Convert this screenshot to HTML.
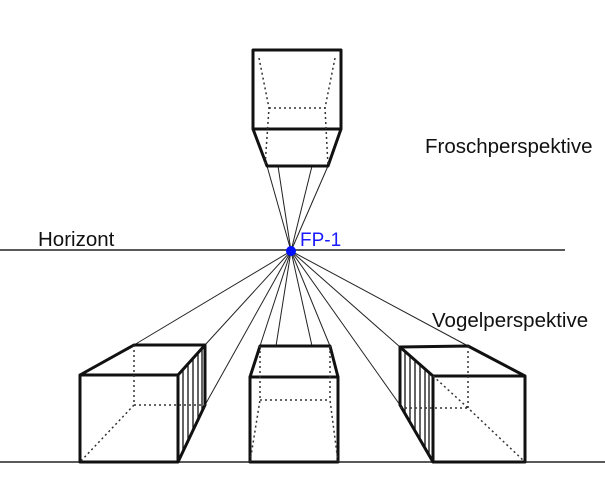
<!DOCTYPE html>
<html><head><style>
html,body{margin:0;padding:0;background:#fff;}
svg{display:block;}
text{font-family:"Liberation Sans",sans-serif;}
</style></head><body>
<svg width="605" height="500" viewBox="0 0 605 500" xmlns="http://www.w3.org/2000/svg">
<rect width="605" height="500" fill="#fff"/>
<line x1="0" y1="250" x2="565" y2="250" stroke="#222" stroke-width="1.5"/>
<line x1="0" y1="462" x2="605" y2="462" stroke="#222" stroke-width="1.5"/>
<g stroke="#222" stroke-width="1">
<line x1="291" y1="251" x2="267" y2="166"/>
<line x1="291" y1="251" x2="278" y2="166"/>
<line x1="291" y1="251" x2="312" y2="166"/>
<line x1="291" y1="251" x2="328" y2="166"/>
<line x1="291" y1="251" x2="134" y2="345"/>
<line x1="291" y1="251" x2="205" y2="345"/>
<line x1="291" y1="251" x2="205" y2="405"/>
<line x1="291" y1="251" x2="260" y2="346"/>
<line x1="291" y1="251" x2="330" y2="346"/>
<line x1="291" y1="251" x2="276" y2="346"/>
<line x1="291" y1="251" x2="312" y2="346"/>
<line x1="291" y1="251" x2="400" y2="347"/>
<line x1="291" y1="251" x2="468" y2="346"/>
<line x1="291" y1="251" x2="400" y2="405"/>
</g>
<g fill="none" stroke="#111" stroke-width="3" stroke-linejoin="round">
<rect x="253" y="50" width="88" height="79"/>
<polyline points="253,129 267,166 328,166 341,129"/>
<rect x="80" y="375" width="98" height="87"/>
<polyline points="80,375 134,345 205,345 178,375"/>
<polyline points="205,345 205,405 178,462"/>
<rect x="250" y="377" width="88" height="85"/>
<polyline points="250,377 260,346 330,346 338,377"/>
<rect x="433" y="376" width="92" height="86"/>
<polyline points="433,376 400,347 468,346 525,376"/>
<polyline points="400,347 400,405 433,462"/>
</g>
<g stroke="#111" stroke-width="1.3">
<line x1="183" y1="370" x2="183" y2="452"/><line x1="188" y1="364" x2="188" y2="442"/>
<line x1="193" y1="359" x2="193" y2="432"/><line x1="198" y1="353" x2="198" y2="421"/>
<line x1="202" y1="348" x2="202" y2="412"/>
<line x1="405" y1="351" x2="405" y2="414"/><line x1="410" y1="356" x2="410" y2="423"/>
<line x1="415" y1="360" x2="415" y2="432"/><line x1="420" y1="365" x2="420" y2="441"/>
<line x1="425" y1="369" x2="425" y2="449"/><line x1="429" y1="373" x2="429" y2="456"/>
</g>
<g fill="none" stroke="#333" stroke-width="1.5" stroke-dasharray="2,3">
<polyline points="259,58 269,108 265,166"/>
<polyline points="335,58 325,108 328,166"/>
<line x1="269" y1="108" x2="325" y2="108"/>
<polyline points="134,345 134,405 80,462"/>
<line x1="134" y1="405" x2="205" y2="405"/>
<polyline points="260,346 260,400 250,462"/>
<polyline points="330,346 330,400 338,462"/>
<line x1="260" y1="400" x2="330" y2="400"/>
<polyline points="468,346 468,408 525,462"/>
<line x1="400" y1="408" x2="468" y2="408"/>
<line x1="433" y1="376" x2="468" y2="408"/>
</g>
<circle cx="291" cy="251" r="5" fill="#0010ff"/>
<text x="38" y="246" font-size="20.5" fill="#111">Horizont</text>
<text x="300" y="246" font-size="19" fill="#1a1aff">FP-1</text>
<text x="425" y="153" font-size="20.5" fill="#111">Froschperspektive</text>
<text x="432" y="327" font-size="20.5" fill="#111">Vogelperspektive</text>
</svg>
</body></html>
